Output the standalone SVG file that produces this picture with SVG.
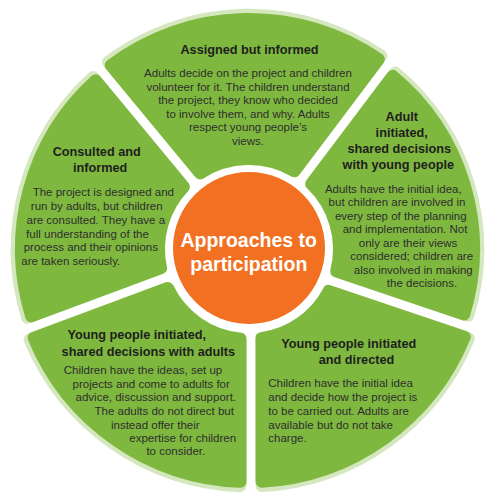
<svg xmlns="http://www.w3.org/2000/svg" width="500" height="500" viewBox="0 0 500 500">
<style>
.seg{fill:#7fb83f;stroke:#7fb83f;stroke-width:12;stroke-linejoin:round}
.shadow{fill:#d5e7bf;stroke:#d5e7bf;stroke-width:12;stroke-linejoin:round}
.title{font-family:"Liberation Sans",Arial,sans-serif;font-weight:bold;font-size:12.7px;fill:#1e1e1e;text-anchor:middle}
.body{font-family:"Liberation Sans",Arial,sans-serif;font-size:11.5px;fill:#2e2e2e;text-anchor:middle}
.start{text-anchor:start}
.center{font-family:"Liberation Sans",Arial,sans-serif;font-weight:bold;font-size:19.5px;fill:#ffffff;text-anchor:middle}
</style>
<defs>
<path id="p-top" d="M110.65,65.25 A230,230 0 0 1 378.88,59.18 L294.41,171.29 A90,90 0 0 0 200.11,173.44 Z"/>
<path id="p-right" d="M392.64,75.82 A225,225 0 0 1 464.26,314.48 L336.17,271.38 A90,90 0 0 0 311.18,183.93 Z"/>
<path id="p-br" d="M464.83,336.82 A233,233 0 0 1 261.52,481.66 L261.49,338.13 A90,90 0 0 0 328.61,290.99 Z"/>
<path id="p-bl" d="M240.50,481.84 A233,233 0 0 1 33.61,337.89 L167.87,287.96 A90,90 0 0 0 240.50,338.60 Z"/>
<path id="p-left" d="M31.19,316.37 A228,228 0 0 1 95.72,80.21 L183.93,186.82 A90,90 0 0 0 161.05,268.10 Z"/>
</defs>
<rect width="500" height="500" fill="#ffffff"/>

<g id="node-assigned">
<use href="#p-top" class="shadow" transform="matrix(1.018 0 0 1.018 -4.482 -4.482)"/>
<use href="#p-top" class="seg"/>
<text class="title" x="249.5" y="54">Assigned but informed</text>
<text class="body" x="248" y="77">Adults decide on the project and children</text>
<text class="body" x="248" y="90.5">volunteer for it. The children understand</text>
<text class="body" x="248" y="104">the project, they know who decided</text>
<text class="body" x="248" y="117.5">to involve them, and why. Adults</text>
<text class="body" x="248" y="131">respect young people’s</text>
<text class="body" x="248" y="144.5">views.</text>
</g>

<g id="node-adult-initiated">
<use href="#p-right" class="shadow" transform="matrix(1.018 0 0 1.018 -4.482 -4.482)"/>
<use href="#p-right" class="seg"/>
<text class="title" x="401.7" y="120.5">Adult</text>
<text class="title" x="401.7" y="136.5">initiated,</text>
<text class="title" x="399.3" y="152.5">shared decisions</text>
<text class="title" x="398.3" y="168.5">with young people</text>
<text class="body" x="393.3" y="192.5">Adults have the initial idea,</text>
<text class="body" x="397" y="206">but children are involved in</text>
<text class="body" x="400.8" y="219.5">every step of the planning</text>
<text class="body" x="405" y="233">and implementation. Not</text>
<text class="body" x="408" y="246.5">only are their views</text>
<text class="body" x="411.7" y="260">considered; children are</text>
<text class="body" x="413.3" y="273.5">also involved in making</text>
<text class="body" x="422" y="287">the decisions.</text>
</g>

<g id="node-yp-directed">
<use href="#p-br" class="shadow" transform="matrix(1.018 0 0 1.018 -4.482 -4.482)"/>
<use href="#p-br" class="seg"/>
<text class="title" x="348.7" y="347.5">Young people initiated</text>
<text class="title" x="356.5" y="363.5">and directed</text>
<text class="body start" x="268.3" y="387">Children have the initial idea</text>
<text class="body start" x="268.3" y="401">and decide how the project is</text>
<text class="body start" x="268.3" y="414.5">to be carried out. Adults are</text>
<text class="body start" x="268.3" y="428.5">available but do not take</text>
<text class="body start" x="268.3" y="441.5">charge.</text>
</g>

<g id="node-yp-shared">
<use href="#p-bl" class="shadow" transform="matrix(1.018 0 0 1.018 -4.482 -4.482)"/>
<use href="#p-bl" class="seg"/>
<text class="title" x="136.7" y="338.5">Young people initiated,</text>
<text class="title" x="148.3" y="355.5">shared decisions with adults</text>
<text class="body" x="143" y="374">Children have the ideas, set up</text>
<text class="body" x="151.2" y="387.5">projects and come to adults for</text>
<text class="body" x="155.8" y="401">advice, discussion and support.</text>
<text class="body" x="164.2" y="414.5">The adults do not direct but</text>
<text class="body" x="155.3" y="428.5">instead offer their</text>
<text class="body" x="182.7" y="442">expertise for children</text>
<text class="body" x="175.8" y="455">to consider.</text>
</g>

<g id="node-consulted">
<use href="#p-left" class="shadow" transform="matrix(1.018 0 0 1.018 -4.482 -4.482)"/>
<use href="#p-left" class="seg"/>
<text class="title" x="96.7" y="156">Consulted and</text>
<text class="title" x="100.2" y="172">informed</text>
<text class="body" x="103.3" y="196">The project is designed and</text>
<text class="body" x="96.7" y="210">run by adults, but children</text>
<text class="body" x="95.8" y="223.5">are consulted. They have a</text>
<text class="body" x="87.5" y="237.5">full understanding of the</text>
<text class="body" x="90.8" y="251">process and their opinions</text>
<text class="body" x="70.8" y="264.5">are taken seriously.</text>
</g>

<g id="node-center">
<circle cx="249" cy="248" r="76" fill="#f27022"/>
<text class="center" x="248.7" y="247">Approaches to</text>
<text class="center" x="248.8" y="271">participation</text>
</g>
</svg>
